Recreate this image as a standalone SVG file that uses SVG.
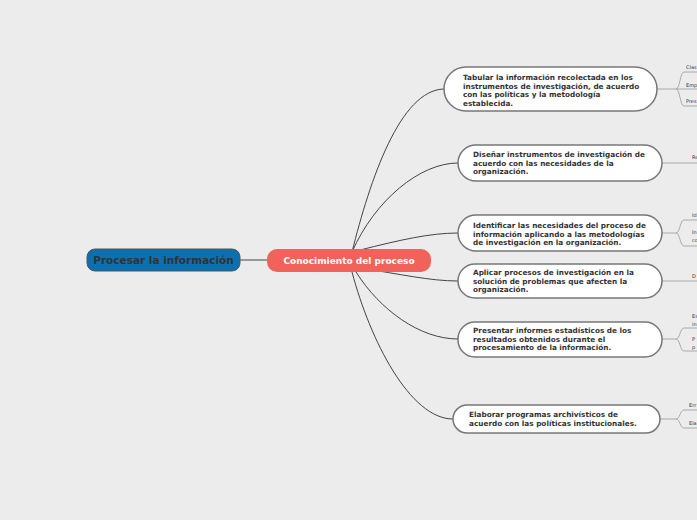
<svg xmlns="http://www.w3.org/2000/svg" width="697" height="520" viewBox="0 0 697 520">
<style>
.b{fill:#fff;stroke:#777;stroke-width:1.5}
.t{font-family:"DejaVu Sans",Verdana,sans-serif;font-weight:bold;font-size:7.3px;fill:#333}
.s{font-family:"DejaVu Sans",sans-serif;font-size:5px;fill:#333}
.c{fill:none;stroke:#444;stroke-width:1}
.g{fill:none;stroke:#999;stroke-width:0.8}
</style>
<rect width="697" height="520" fill="#ececec"/>
<g id="connectors">
<path class="c" d="M240,260H267"/>
<path class="c" d="M352,252C370,180 400,90 444,89"/>
<path class="c" d="M352,252C375,200 420,163 458,163"/>
<path class="c" d="M360,250C400,240 430,233 458,233"/>
<path class="c" d="M360,268C400,274 430,281 458,281"/>
<path class="c" d="M356,272C380,310 420,339 458,339"/>
<path class="c" d="M352,272C370,340 410,419 453,419"/>
<path class="g" d="M657,89H676C680,89 680,72 684,72H697M676,89H697M676,89C680,89 680,106 684,106H697"/>
<path class="g" d="M662,163H697"/>
<path class="g" d="M662,233H676C680,233 680,220 684,220H697M676,233C680,233 680,246 684,246H697"/>
<path class="g" d="M662,281H697"/>
<path class="g" d="M662,339H676C680,339 680,328 684,328H697M676,339C680,339 680,351 684,351H697"/>
<path class="g" d="M660,419H676C680,419 680,410 684,410H697M676,419C680,419 680,428 684,428H697"/>
</g>
<g id="root"><rect x="87" y="249" width="153" height="22" rx="8" fill="#0a70b0" stroke="#555"/><text x="163.5" y="264" text-anchor="middle" class="t" style="font-size:10.5px">Procesar la información</text></g>
<g id="center"><rect x="267" y="249" width="164" height="23" rx="10" fill="#f0625a"/><text x="349" y="264" text-anchor="middle" class="t" style="font-size:9px;fill:#fff">Conocimiento del proceso</text></g>
<g id="n1"><rect class="b" x="444" y="67" width="213" height="44" rx="22"/><text class="t" x="463" y="80">Tabular la información recolectada en los</text><text class="t" x="463" y="88.5">instrumentos de investigación, de acuerdo</text><text class="t" x="463" y="97">con las políticas y la metodología</text><text class="t" x="463" y="105.5">establecida.</text></g>
<g id="n2"><rect class="b" x="458" y="145" width="204" height="36" rx="18"/><text class="t" x="473" y="157">Diseñar instrumentos de investigación de</text><text class="t" x="473" y="165.5">acuerdo con las necesidades de la</text><text class="t" x="473" y="174">organización.</text></g>
<g id="n3"><rect class="b" x="458" y="215" width="204" height="36" rx="18"/><text class="t" x="473" y="228">Identificar las necesidades del proceso de</text><text class="t" x="473" y="236.5">información aplicando a las metodologías</text><text class="t" x="473" y="245">de investigación en la organización.</text></g>
<g id="n4"><rect class="b" x="458" y="264" width="204" height="34" rx="17"/><text class="t" x="473" y="275">Aplicar  procesos de  investigación en la</text><text class="t" x="473" y="283.5">solución de problemas que afecten la</text><text class="t" x="473" y="292">organización.</text></g>
<g id="n5"><rect class="b" x="458" y="322" width="204" height="35" rx="17"/><text class="t" x="473" y="333">Presentar informes estadísticos de los</text><text class="t" x="473" y="341.5">resultados obtenidos durante el</text><text class="t" x="473" y="350">procesamiento de la información.</text></g>
<g id="n6"><rect class="b" x="453" y="405" width="207" height="28" rx="14"/><text class="t" x="469" y="417">Elaborar programas archivísticos de</text><text class="t" x="469" y="425.5">acuerdo con las políticas institucionales.</text></g>
<g id="leaves">
<text class="s" x="686" y="69">Clas</text><text class="s" x="686" y="87">Emp</text><text class="s" x="686" y="103">Pres</text>
<text class="s" x="692" y="159">Re</text>
<text class="s" x="692" y="217">Id</text><text class="s" x="692" y="234">In</text><text class="s" x="692" y="242">co</text>
<text class="s" x="692" y="278">D</text>
<text class="s" x="692" y="318">Es</text><text class="s" x="692" y="326">in</text><text class="s" x="692" y="341">P</text><text class="s" x="692" y="349">p</text>
<text class="s" x="689" y="407">Err</text><text class="s" x="689" y="425">Ela</text>
</g>
</svg>
